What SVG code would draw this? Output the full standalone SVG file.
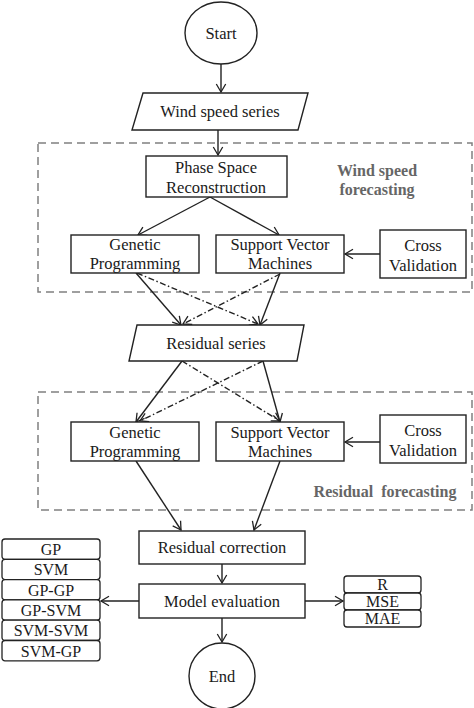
<svg xmlns="http://www.w3.org/2000/svg" width="474" height="708" viewBox="0 0 474 708">
<defs>
<style>
.b{fill:#fff;stroke:#222;stroke-width:1.4}
.t{font-family:"Liberation Serif","Times New Roman",serif;font-size:16.5px;fill:#1a1a1a;text-anchor:middle}
.s{font-size:16px}
.g{font-family:"Liberation Serif","Times New Roman",serif;font-size:16px;font-weight:bold;fill:#666;text-anchor:middle}
.d{fill:none;stroke:#808080;stroke-width:1.5;stroke-dasharray:8 5}
.c{fill:none;stroke:#222;stroke-width:1.4}
.dd{stroke-dasharray:6 2.5 1.5 2.5}
.l{fill:#fff;stroke:#222;stroke-width:1.3}
</style>
<marker id="a" markerUnits="userSpaceOnUse" markerWidth="12" markerHeight="12" refX="10" refY="6" orient="auto" viewBox="0 0 12 12">
<path d="M2,1.3 L10,6 L2,10.7" fill="none" stroke="#222" stroke-width="1.3"/>
</marker>
</defs>
<rect width="474" height="708" fill="#fff"/>
<g id="group-wind">
<rect class="d" x="38" y="143" width="434" height="149"/>
<text class="g" x="377" y="176">Wind speed</text>
<text class="g" x="377" y="195">forecasting</text>
</g>
<g id="group-residual">
<rect class="d" x="38" y="392" width="434" height="118"/>
<text class="g" x="385" y="497" xml:space="preserve">Residual  forecasting</text>
</g>
<g id="connectors">
<line class="c" x1="221" y1="64" x2="221" y2="92" marker-end="url(#a)"/>
<line class="c" x1="218" y1="130" x2="218" y2="155" marker-end="url(#a)"/>
<line class="c" x1="210" y1="197" x2="138" y2="235" marker-end="url(#a)"/>
<line class="c" x1="210" y1="197" x2="279" y2="235" marker-end="url(#a)"/>
<line class="c" x1="380" y1="254" x2="345" y2="254" marker-end="url(#a)"/>
<line class="c" x1="136" y1="273" x2="181" y2="325" marker-end="url(#a)"/>
<line class="c" x1="280" y1="273" x2="260" y2="325" marker-end="url(#a)"/>
<line class="c dd" x1="137" y1="273" x2="258" y2="324" marker-end="url(#a)"/>
<line class="c dd" x1="280" y1="274" x2="183" y2="324" marker-end="url(#a)"/>
<line class="c" x1="182" y1="361" x2="136" y2="422" marker-end="url(#a)"/>
<line class="c" x1="263" y1="361" x2="280" y2="422" marker-end="url(#a)"/>
<line class="c dd" x1="182" y1="361" x2="280" y2="421" marker-end="url(#a)"/>
<line class="c dd" x1="263" y1="361" x2="140" y2="421" marker-end="url(#a)"/>
<line class="c" x1="380" y1="442" x2="345" y2="442" marker-end="url(#a)"/>
<line class="c" x1="136" y1="461" x2="181" y2="530" marker-end="url(#a)"/>
<line class="c" x1="280" y1="461" x2="254" y2="530" marker-end="url(#a)"/>
<line class="c" x1="222" y1="564" x2="222" y2="583" marker-end="url(#a)"/>
<line class="c" x1="139" y1="601" x2="101" y2="601" marker-end="url(#a)"/>
<line class="c" x1="305" y1="601" x2="343" y2="601" marker-end="url(#a)"/>
<line class="c" x1="222" y1="618" x2="222" y2="642" marker-end="url(#a)"/>
</g>
<g id="start">
<ellipse class="b" cx="221" cy="33" rx="36" ry="31"/>
<text class="t" x="221" y="39">Start</text>
</g>
<g id="wind-speed-series">
<polygon class="b" points="143,93 308,93 298,130 132,130"/>
<text class="t" x="220" y="117">Wind speed series</text>
</g>
<g id="phase-space">
<rect class="b" x="146" y="156" width="141" height="41"/>
<text class="t" x="216" y="173">Phase Space</text>
<text class="t" x="216" y="193">Reconstruction</text>
</g>
<g id="gp1">
<rect class="b" x="71" y="235" width="128" height="38"/>
<text class="t" x="135" y="250">Genetic</text>
<text class="t" x="135" y="269">Programming</text>
</g>
<g id="svm1">
<rect class="b" x="216" y="235" width="128" height="38"/>
<text class="t" x="280" y="250">Support Vector</text>
<text class="t" x="280" y="269">Machines</text>
</g>
<g id="cv1">
<rect class="b" x="380" y="230" width="86" height="48"/>
<text class="t" x="423" y="251">Cross</text>
<text class="t" x="423" y="271">Validation</text>
</g>
<g id="residual-series">
<polygon class="b" points="137,325 304,325 297,361 129,361"/>
<text class="t" x="216" y="349">Residual series</text>
</g>
<g id="gp2">
<rect class="b" x="71" y="422" width="128" height="39"/>
<text class="t" x="135" y="438">Genetic</text>
<text class="t" x="135" y="457">Programming</text>
</g>
<g id="svm2">
<rect class="b" x="216" y="422" width="128" height="39"/>
<text class="t" x="280" y="438">Support Vector</text>
<text class="t" x="280" y="457">Machines</text>
</g>
<g id="cv2">
<rect class="b" x="380" y="415" width="86" height="48"/>
<text class="t" x="423" y="436">Cross</text>
<text class="t" x="423" y="456">Validation</text>
</g>
<g id="residual-correction">
<rect class="b" x="139" y="531" width="166" height="33"/>
<text class="t" x="222" y="553">Residual correction</text>
</g>
<g id="model-evaluation">
<rect class="b" x="139" y="584" width="166" height="34"/>
<text class="t" x="222" y="607">Model evaluation</text>
</g>
<g id="models-list">
<rect class="l" x="2" y="539" width="98" height="20.3" rx="3"/>
<rect class="l" x="2" y="559.3" width="98" height="20.3" rx="3"/>
<rect class="l" x="2" y="579.6" width="98" height="20.3" rx="3"/>
<rect class="l" x="2" y="599.9" width="98" height="20.3" rx="3"/>
<rect class="l" x="2" y="620.2" width="98" height="20.3" rx="3"/>
<rect class="l" x="2" y="640.5" width="98" height="20.3" rx="3"/>
<text class="t s" x="51" y="555">GP</text>
<text class="t s" x="51" y="575.3">SVM</text>
<text class="t s" x="51" y="595.6">GP-GP</text>
<text class="t s" x="51" y="615.9">GP-SVM</text>
<text class="t s" x="51" y="636.2">SVM-SVM</text>
<text class="t s" x="51" y="656.5">SVM-GP</text>
</g>
<g id="metrics-list">
<rect class="l" x="344" y="576" width="77" height="17" rx="3"/>
<rect class="l" x="344" y="593" width="77" height="17" rx="3"/>
<rect class="l" x="344" y="610" width="77" height="17" rx="3"/>
<text class="t s" x="382.5" y="590">R</text>
<text class="t s" x="382.5" y="607">MSE</text>
<text class="t s" x="382.5" y="624">MAE</text>
</g>
<g id="end">
<ellipse class="b" cx="222" cy="676" rx="33" ry="33"/>
<text class="t" x="222" y="682">End</text>
</g>
</svg>
